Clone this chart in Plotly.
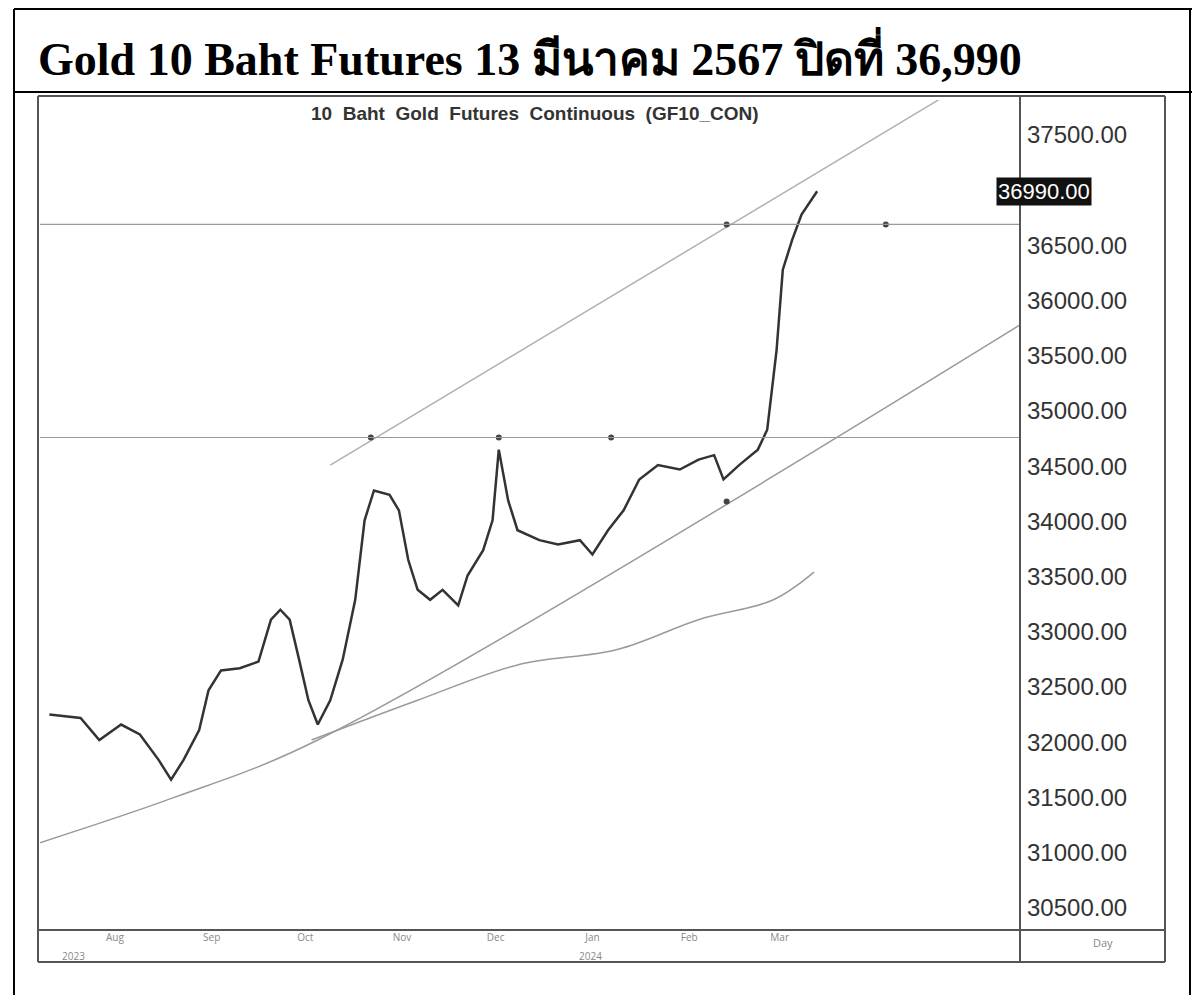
import plotly.graph_objects as go

# closing prices
dates = ["2023-07-11", "2023-07-21", "2023-07-27", "2023-08-03", "2023-08-09", "2023-08-15",
         "2023-08-19", "2023-08-23", "2023-08-28", "2023-08-31", "2023-09-04", "2023-09-10",
         "2023-09-16", "2023-09-20", "2023-09-23", "2023-09-26", "2023-09-29", "2023-10-02",
         "2023-10-05", "2023-10-09", "2023-10-13", "2023-10-17", "2023-10-20", "2023-10-23",
         "2023-10-28", "2023-10-31", "2023-11-03", "2023-11-06", "2023-11-10", "2023-11-14",
         "2023-11-19", "2023-11-22", "2023-11-27", "2023-11-30", "2023-12-02", "2023-12-05",
         "2023-12-08", "2023-12-15", "2023-12-21", "2023-12-28", "2024-01-01", "2024-01-06",
         "2024-01-11", "2024-01-16", "2024-01-22", "2024-01-29", "2024-02-04", "2024-02-09",
         "2024-02-12", "2024-02-17", "2024-02-23", "2024-02-26", "2024-02-29", "2024-03-02",
         "2024-03-05", "2024-03-08", "2024-03-13"]
close = [32250, 32220, 32020, 32160, 32070, 31840, 31660, 31840, 32110, 32470, 32650, 32670,
         32730, 33110, 33200, 33110, 32750, 32380, 32160, 32380, 32750, 33290, 34010, 34280,
         34240, 34100, 33650, 33380, 33290, 33380, 33240, 33510, 33740, 34010, 34650, 34190,
         33920, 33830, 33790, 33830, 33700, 33920, 34100, 34380, 34510, 34470, 34560, 34600,
         34380, 34510, 34650, 34830, 35550, 36280, 36550, 36780, 36990]

ma_dates = ["2023-10-03", "2023-11-06", "2023-12-08", "2024-01-09", "2024-02-04", "2024-02-28", "2024-03-12"]
ma_vals = [32020, 32380, 32700, 32840, 33110, 33290, 33540]

upper_dates = ["2023-10-09", "2024-04-21"]
upper_vals = [34510, 37820]
lower_dates = ["2023-07-08", "2023-08-20", "2023-10-05", "2024-05-17"]
lower_vals = [31090, 31500, 32020, 35780]

resist = [36690, 34760]
dot_dates = ["2024-02-13", "2024-04-04", "2023-10-22", "2023-12-02", "2024-01-07", "2024-02-13"]
dot_vals = [36690, 36690, 34760, 34760, 34760, 34180]

month_ticks = ["2023-08-01", "2023-09-01", "2023-10-01", "2023-11-01", "2023-12-01",
               "2024-01-01", "2024-02-01", "2024-03-01"]
month_labels = ["Aug", "Sep", "Oct", "Nov", "Dec", "Jan", "Feb", "Mar"]
price_ticks = [30500, 31000, 31500, 32000, 32500, 33000, 33500, 34000, 34500,
               35000, 35500, 36000, 36500, 37500]

fig = go.Figure()
fig.add_trace(go.Scatter(x=upper_dates, y=upper_vals, mode="lines",
                         line=dict(color="#b0b0b0", width=1.5)))
fig.add_trace(go.Scatter(x=lower_dates, y=lower_vals, mode="lines", line_shape="spline",
                         line=dict(color="#9a9a9a", width=1.5)))
fig.add_trace(go.Scatter(x=ma_dates, y=ma_vals, mode="lines", line_shape="spline",
                         line=dict(color="#9a9a9a", width=1.5)))
fig.add_trace(go.Scatter(x=dates, y=close, mode="lines",
                         line=dict(color="#333333", width=2.5)))
fig.add_trace(go.Scatter(x=dot_dates, y=dot_vals, mode="markers",
                         marker=dict(color="#444444", size=6)))
for r in resist:
    fig.add_hline(y=r, line=dict(color="#999999", width=1.2))

# table frame (page pixel -> paper coords)
def px(x):
    return (x - 40) / 980
def py(y):
    return (930 - y) / 830
frame = dict(type="line", xref="paper", yref="paper", line=dict(color="black", width=2))
for x0, y0, x1, y1 in [(14, 9, 1200, 9), (14, 92, 1200, 92), (14, 9, 14, 995), (1190, 9, 1190, 995)]:
    fig.add_shape(frame, x0=px(x0), x1=px(x1), y0=py(y0), y1=py(y1))
box = dict(type="line", xref="paper", yref="paper", line=dict(color="#555555", width=2))
for x0, y0, x1, y1 in [(38, 96, 1165, 96), (38, 962, 1165, 962), (38, 96, 38, 962),
                       (1165, 96, 1165, 962), (1020, 96, 1020, 962), (38, 930, 1165, 930)]:
    fig.add_shape(box, x0=px(x0), x1=px(x1), y0=py(y0), y1=py(y1))

fig.add_annotation(x=px(36), y=py(56), xref="paper", yref="paper", xanchor="left", yanchor="middle",
                   text="<b>Gold 10 Baht Futures 13 มีนาคม 2567 ปิดที่ 36,990</b>", showarrow=False,
                   font=dict(family="Liberation Serif, Noto Sans", size=46, color="black"))
fig.add_annotation(x=px(535), y=py(113), xref="paper", yref="paper", yanchor="middle",
                   text="<b>10\u00a0\u00a0Baht\u00a0\u00a0Gold\u00a0\u00a0Futures\u00a0\u00a0Continuous\u00a0\u00a0(GF10_CON)</b>",
                   showarrow=False, font=dict(family="Liberation Sans", size=19, color="#333333"))
fig.add_annotation(x=px(1092), y=36990, xref="paper", yref="y", yanchor="middle",
                   text="36990.00", showarrow=False, bgcolor="#111111",
                   font=dict(family="Liberation Sans Narrow, Liberation Sans", size=22, color="white"))
fig.add_annotation(x=px(1115), y=py(942), xref="paper", yref="paper", yanchor="middle", text="Day",
                   showarrow=False, font=dict(size=11, color="#888888"))
fig.add_annotation(x=px(60), y=py(956), xref="paper", yref="paper", yanchor="middle", text="2023",
                   showarrow=False, font=dict(size=10, color="#888888"))
fig.add_annotation(x=px(590), y=py(956), xref="paper", yref="paper", yanchor="middle", text="2024",
                   showarrow=False, font=dict(size=10, color="#888888"))

fig.update_layout(
    width=1200, height=995, showlegend=False,
    margin=dict(l=32, r=188, t=92, b=73),
    plot_bgcolor="white", paper_bgcolor="white",
    xaxis=dict(type="date", range=["2023-07-08", "2024-05-17"], tickvals=month_ticks,
               ticktext=month_labels, showgrid=False, zeroline=False, ticks="",
               tickfont=dict(size=10, color="#888888")),
    yaxis=dict(side="right", range=[30299, 37817], tickvals=price_ticks,
               ticktext=[f"{v}.00" for v in price_ticks], showgrid=False, zeroline=False,
               ticks="", ticklabelstandoff=6,
               tickfont=dict(family="Liberation Sans Narrow, Liberation Sans", size=24, color="#333333")),
)
fig.write_html("out.html")
